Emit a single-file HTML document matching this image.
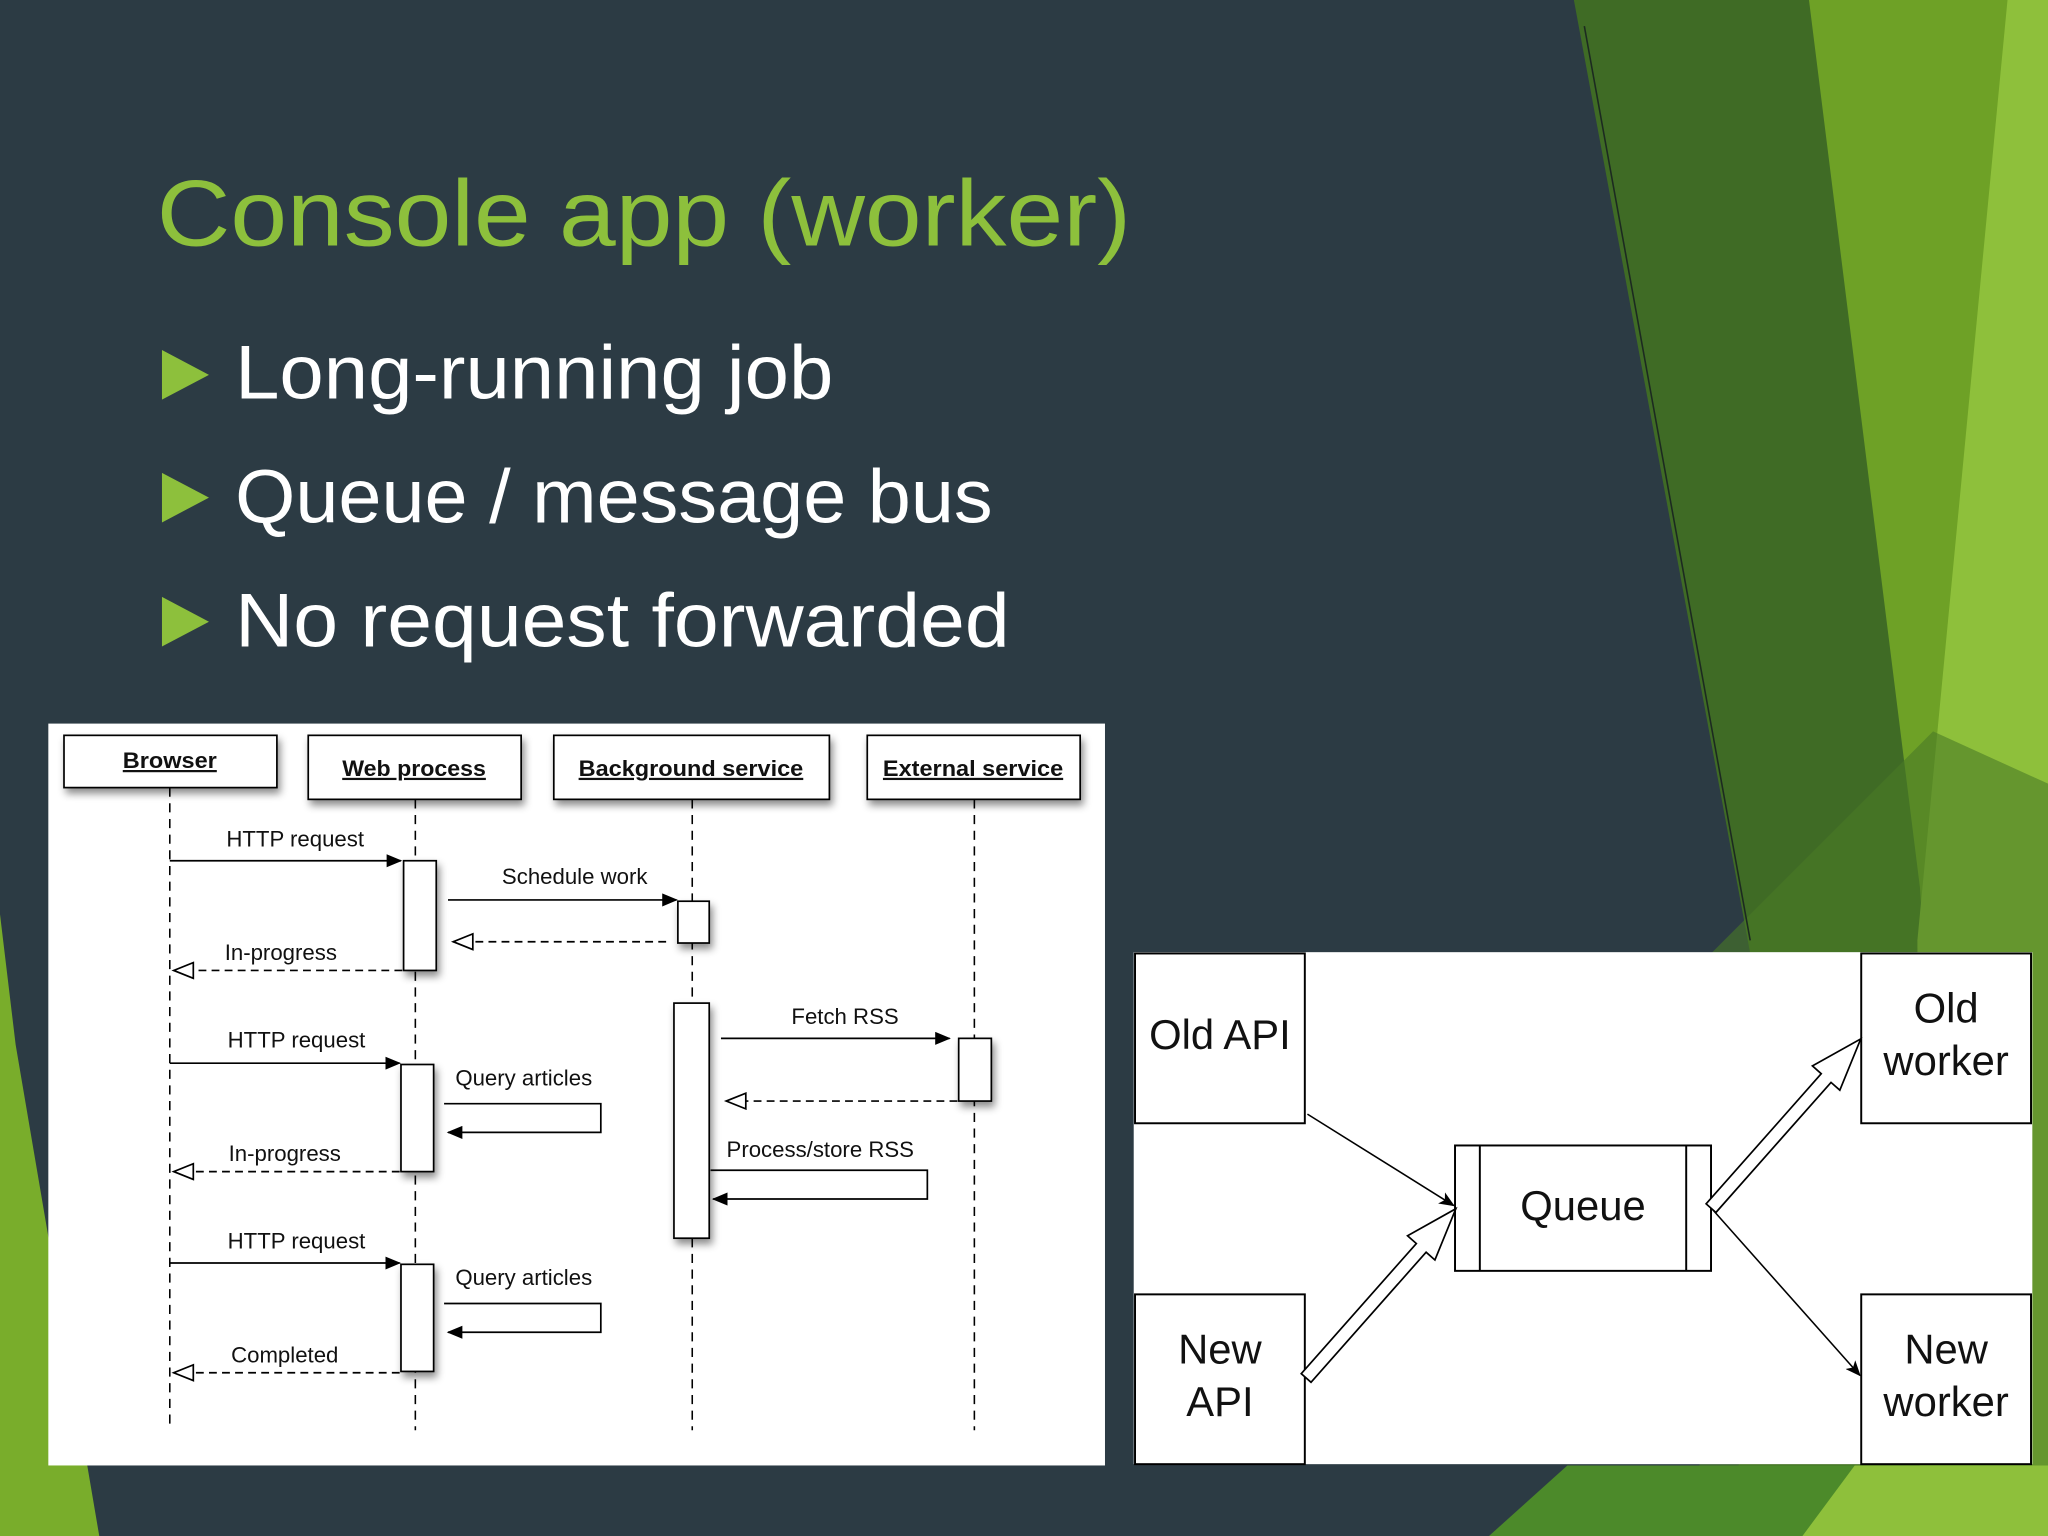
<!DOCTYPE html>
<html><head><meta charset="utf-8"><style>
html,body{margin:0;padding:0;background:#2c3b44;overflow:hidden}
svg{display:block}
</style></head><body>
<svg width="2048" height="1536" viewBox="0 0 1568 1176" xmlns="http://www.w3.org/2000/svg" font-family="Liberation Sans, Arial, sans-serif">
<defs>
<marker id="f" markerWidth="12" markerHeight="10" refX="11" refY="5" orient="auto" markerUnits="userSpaceOnUse"><path d="M0,0 L12,5 L0,10 Z" fill="#000"/></marker>
<marker id="o" markerWidth="18" markerHeight="14" refX="16" refY="7" orient="auto" markerUnits="userSpaceOnUse"><path d="M1,1 L16,7 L1,13 Z" fill="#fff" stroke="#000" stroke-width="1.3"/></marker>
<marker id="s" markerWidth="12" markerHeight="10" refX="11" refY="5" orient="auto" markerUnits="userSpaceOnUse"><path d="M0,0 L12,5 L0,10 L3,5 Z" fill="#000"/></marker>
<filter id="sh" x="-10%" y="-10%" width="130%" height="150%"><feDropShadow dx="2" dy="4" stdDeviation="3" flood-color="#000" flood-opacity="0.45"/></filter>
</defs>
<rect width="1568" height="1176" fill="#2c3b44"/>
<polygon points="1205,0 1390,0 1568,560 1568,1176 1330,1176 1340,730" fill="#3f6b25"/>
<polygon points="1385,0 1568,0 1568,1176 1500,1176 1470,680" fill="#6ea126"/>
<polygon points="1537,0 1568,0 1568,1176 1470,1176 1468,720" fill="#8ec03b"/>
<polygon points="1310,730 1480,560 1568,600 1568,1176 1300,1176" fill="#4a7a27" opacity="0.6"/>
<line x1="1213" y1="20" x2="1340" y2="720" stroke="#1c2a20" stroke-width="1.2"/>
<polygon points="1140,1176 1200,1122 1568,1122 1568,1176" fill="#4c8a2a"/>
<polygon points="1380,1176 1420,1122 1568,1122 1568,1176" fill="#8ec03b"/>
<polygon points="0,700 12,800 76,1176 0,1176" fill="#79ad2b"/>
<text x="120" y="188" font-size="72" fill="#8dc03c" textLength="746" lengthAdjust="spacingAndGlyphs">Console app (worker)</text>
<g fill="#8dc03c"><polygon points="124,268 160,287 124,306"/><polygon points="124,362 160,381 124,400"/><polygon points="124,457 160,476 124,495"/></g>
<g fill="#fff" font-size="58">
<text x="180" y="305" textLength="458" lengthAdjust="spacingAndGlyphs">Long-running job</text>
<text x="180" y="400" textLength="580" lengthAdjust="spacingAndGlyphs">Queue / message bus</text>
<text x="180" y="495" textLength="593" lengthAdjust="spacingAndGlyphs">No request forwarded</text>
</g>
<rect x="37" y="554" width="809" height="568" fill="#fff"/>
<g stroke="#000" stroke-width="1.3" fill="#fff">
<rect x="49" y="563" width="163" height="40" filter="url(#sh)"/>
<rect x="236" y="563" width="163" height="49" filter="url(#sh)"/>
<rect x="424" y="563" width="211" height="49" filter="url(#sh)"/>
<rect x="664" y="563" width="163" height="49" filter="url(#sh)"/>
</g>
<g font-size="17" font-weight="bold" text-anchor="middle" text-decoration="underline" fill="#111">
<text x="130" y="588" textLength="72" lengthAdjust="spacingAndGlyphs">Browser</text>
<text x="317" y="594" textLength="110" lengthAdjust="spacingAndGlyphs">Web process</text>
<text x="529" y="594" textLength="172" lengthAdjust="spacingAndGlyphs">Background service</text>
<text x="745" y="594" textLength="138" lengthAdjust="spacingAndGlyphs">External service</text>
</g>
<g stroke="#000" stroke-width="1.2" stroke-dasharray="7,5">
<line x1="130" y1="603" x2="130" y2="1095"/>
<line x1="318" y1="612" x2="318" y2="1095"/>
<line x1="530" y1="612" x2="530" y2="1095"/>
<line x1="746" y1="612" x2="746" y2="1095"/>
</g>
<g stroke="#000" stroke-width="1.3" fill="#fff" filter="url(#sh)">
<rect x="309" y="659" width="25" height="84"/>
<rect x="519" y="690" width="24" height="32"/>
<rect x="307" y="815" width="25" height="82"/>
<rect x="516" y="768" width="27" height="180"/>
<rect x="734" y="795" width="25" height="48"/>
<rect x="307" y="968" width="25" height="82"/>
</g>
<g stroke="#000" stroke-width="1.3" fill="none">
<line x1="130" y1="659" x2="307" y2="659" marker-end="url(#f)"/>
<line x1="343" y1="689" x2="518" y2="689" marker-end="url(#f)"/>
<line x1="510" y1="721" x2="347" y2="721" stroke-dasharray="6,4" marker-end="url(#o)"/>
<line x1="308" y1="743" x2="133" y2="743" stroke-dasharray="6,4" marker-end="url(#o)"/>
<line x1="552" y1="795" x2="727" y2="795" marker-end="url(#f)"/>
<line x1="733" y1="843" x2="556" y2="843" stroke-dasharray="6,4" marker-end="url(#o)"/>
<line x1="130" y1="814" x2="306" y2="814" marker-end="url(#f)"/>
<polyline points="340,845 460,845 460,867 343,867" marker-end="url(#f)"/>
<polyline points="544,896 710,896 710,918 546,918" marker-end="url(#f)"/>
<line x1="306" y1="897" x2="133" y2="897" stroke-dasharray="6,4" marker-end="url(#o)"/>
<line x1="130" y1="967" x2="306" y2="967" marker-end="url(#f)"/>
<polyline points="340,998 460,998 460,1020 343,1020" marker-end="url(#f)"/>
<line x1="306" y1="1051" x2="133" y2="1051" stroke-dasharray="6,4" marker-end="url(#o)"/>
</g>
<g font-size="17" fill="#111" text-anchor="middle">
<text x="226" y="648">HTTP request</text>
<text x="440" y="677">Schedule work</text>
<text x="215" y="735">In-progress</text>
<text x="647" y="784">Fetch RSS</text>
<text x="227" y="802">HTTP request</text>
<text x="401" y="831">Query articles</text>
<text x="628" y="886">Process/store RSS</text>
<text x="218" y="889">In-progress</text>
<text x="227" y="956">HTTP request</text>
<text x="401" y="984">Query articles</text>
<text x="218" y="1043">Completed</text>
</g>
<rect x="868" y="729" width="688" height="392" fill="#fff"/>
<g stroke="#000" stroke-width="1.5" fill="none">
<rect x="869" y="730" width="130" height="130"/>
<rect x="1425" y="730" width="130" height="130"/>
<rect x="869" y="991" width="130" height="130"/>
<rect x="1425" y="991" width="130" height="130"/>
<rect x="1114" y="877" width="196" height="96"/>
<line x1="1133" y1="877" x2="1133" y2="973"/>
<line x1="1291" y1="877" x2="1291" y2="973"/>
</g>
<g stroke="#000" stroke-width="1.2" fill="none">
<line x1="1001" y1="853" x2="1113" y2="923" marker-end="url(#s)"/>
<line x1="1312" y1="927" x2="1424" y2="1053" marker-end="url(#s)"/>
</g>
<g stroke="#000" stroke-width="1.3" fill="#fff">
<polygon transform="translate(1000,1055) rotate(-48.5)" points="0,-5 133,-5 133,-14 173,0 133,14 133,5 0,5"/>
<polygon transform="translate(1310,925) rotate(-48.5)" points="0,-5 133,-5 133,-14 173,0 133,14 133,5 0,5"/>
</g>
<g font-size="32" fill="#111" text-anchor="middle">
<text x="934" y="803">Old API</text>
<text x="1490" y="783">Old</text>
<text x="1490" y="823">worker</text>
<text x="1212" y="934">Queue</text>
<text x="934" y="1044">New</text>
<text x="934" y="1084">API</text>
<text x="1490" y="1044">New</text>
<text x="1490" y="1084">worker</text>
</g>
</svg>
</body></html>
